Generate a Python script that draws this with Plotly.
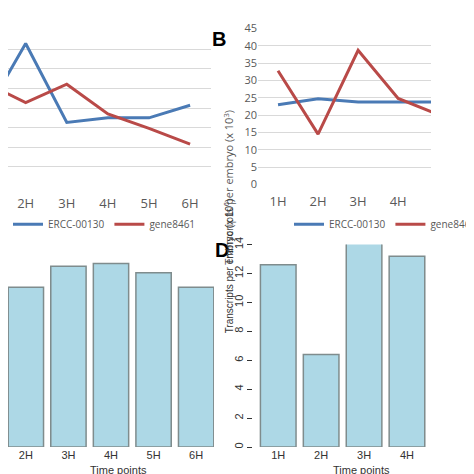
import plotly.graph_objects as go

hours6 = ["1H", "2H", "3H", "4H", "5H", "6H"]
a_ercc = [18.2, 36.5, 16.3, 17.5, 17.5, 20.7]
a_gene = [26.6, 21.4, 26.1, 18.5, 14.8, 10.8]

hours_b = ["1H", "2H", "3H", "4H", "5H"]
b_ercc = [23.0, 24.7, 23.8, 23.8, 23.8]
b_gene = [32.8, 14.5, 38.7, 24.8, 20.2]

hours_c = ["2H", "3H", "4H", "5H", "6H"]
c_vals = [11.05, 12.5, 12.7, 12.05, 11.05]

hours_d = ["1H", "2H", "3H", "4H"]
d_vals = [12.6, 6.4, 14.1, 13.2]

BLUE = "#4a7ab5"
RED = "#b94a48"
GRAY = "#595959"
BARF = "#add8e6"
BARL = "#7f8c8d"

fig = go.Figure()
fig.add_trace(go.Scatter(x=hours6, y=a_ercc, mode="lines", line=dict(color=BLUE, width=3),
                         name="ERCC-00130", xaxis="x", yaxis="y", legend="legend"))
fig.add_trace(go.Scatter(x=hours6, y=a_gene, mode="lines", line=dict(color=RED, width=3),
                         name="gene8461", xaxis="x", yaxis="y", legend="legend"))
fig.add_trace(go.Scatter(x=hours_b, y=b_ercc, mode="lines", line=dict(color=BLUE, width=3),
                         name="ERCC-00130", xaxis="x2", yaxis="y2", legend="legend2"))
fig.add_trace(go.Scatter(x=hours_b, y=b_gene, mode="lines", line=dict(color=RED, width=3),
                         name="gene8461", xaxis="x2", yaxis="y2", legend="legend2"))
fig.add_trace(go.Bar(x=hours_c, y=c_vals, width=0.83, marker=dict(color=BARF, line=dict(color=BARL, width=1.5)),
                     xaxis="x3", yaxis="y3", showlegend=False))
fig.add_trace(go.Bar(x=hours_d, y=d_vals, width=0.83, marker=dict(color=BARF, line=dict(color=BARL, width=1.5)),
                     xaxis="x4", yaxis="y4", showlegend=False))

tickbold = dict(family="Open Sans", size=13, color=GRAY)
small = dict(family="Liberation Sans", size=11, color="#333")

fig.update_layout(
    width=474, height=474, margin=dict(l=0, r=0, t=0, b=0),
    paper_bgcolor="white", plot_bgcolor="white",
    xaxis=dict(domain=[0, 0.481], range=[0.57, 5.52], categoryorder="array", categoryarray=hours6,
               showgrid=False, ticks="", tickfont=tickbold, ticklabelstandoff=8),
    yaxis=dict(domain=[0.629, 0.970], range=[0, 40], dtick=5, showgrid=True, gridcolor="#d9d9d9",
               showticklabels=False, zeroline=False),
    xaxis2=dict(domain=[0.591, 1], range=[-0.5, 3.82], categoryorder="array", categoryarray=hours_b,
                showgrid=False, ticks="", tickfont=tickbold, ticklabelstandoff=8, anchor="y2"),
    yaxis2=dict(domain=[0.633, 0.973], range=[0, 45], dtick=5, showgrid=True, gridcolor="#d9d9d9",
                zeroline=False, tickfont=dict(family="Open Sans", size=11, color=GRAY), anchor="x2",
                ticklabelstandoff=0),
    xaxis3=dict(domain=[0, 0.487], range=[0.58, 5.42], categoryorder="array", categoryarray=hours6,
                showgrid=False, ticks="", tickfont=small, anchor="y3", ticklabelstandoff=0),
    yaxis3=dict(domain=[0.061, 0.502], range=[0, 14], showgrid=False, showticklabels=False,
                zeroline=False, anchor="x3"),
    xaxis4=dict(domain=[0.58, 1], range=[-0.58, 3.56], categoryorder="array", categoryarray=hours_d,
                showgrid=False, ticks="", tickfont=small, anchor="y4", ticklabelstandoff=0),
    yaxis4=dict(domain=[0.061, 0.502], range=[0, 14], dtick=2, showgrid=False, zeroline=False,
                showline=False, ticks="outside", ticklen=5, tickcolor="#333", tickangle=-90,
                tickfont=small, anchor="x4"),
    legend=dict(orientation="h", x=0, y=1 - 215/474, xanchor="left", yanchor="middle",
                font=dict(family="Open Sans", size=10, color=GRAY), itemwidth=30, bgcolor="rgba(0,0,0,0)"),
    legend2=dict(orientation="h", x=0.665, y=1 - 215/474, xanchor="left", yanchor="middle",
                 font=dict(family="Open Sans", size=10, color=GRAY), itemwidth=30, bgcolor="rgba(0,0,0,0)"),
    annotations=[
        dict(text="<b>B</b>", x=236/474, y=1 - 10/474, xref="paper", yref="paper", showarrow=False,
             font=dict(family="Liberation Sans", size=20, color="black")),
        dict(text="<b>D</b>", x=240/474, y=1 - 242/474, xref="paper", yref="paper", showarrow=False,
             font=dict(family="Liberation Sans", size=20, color="black")),
        dict(text="Transcripts per embryo (x 10<sup>3</sup>)", textangle=-90, x=248/474, y=1 - 95/474,
             xref="paper", yref="paper", showarrow=False,
             font=dict(family="Open Sans", size=11, color=GRAY)),
        dict(text="Transcripts per embryo (x 10<sup>6</sup>)", textangle=-90, x=248/474, y=1 - 330/474,
             xref="paper", yref="paper", showarrow=False,
             font=dict(family="Liberation Sans", size=10, color="#333")),
        dict(text="Time points", x=90/474, y=1 - 461/474, xref="paper", yref="paper", showarrow=False,
             yanchor="top", font=small),
        dict(text="Time points", x=430/474, y=1 - 461/474, xref="paper", yref="paper", showarrow=False,
             yanchor="top", font=small),
    ],
)

fig.write_html("out.html")
